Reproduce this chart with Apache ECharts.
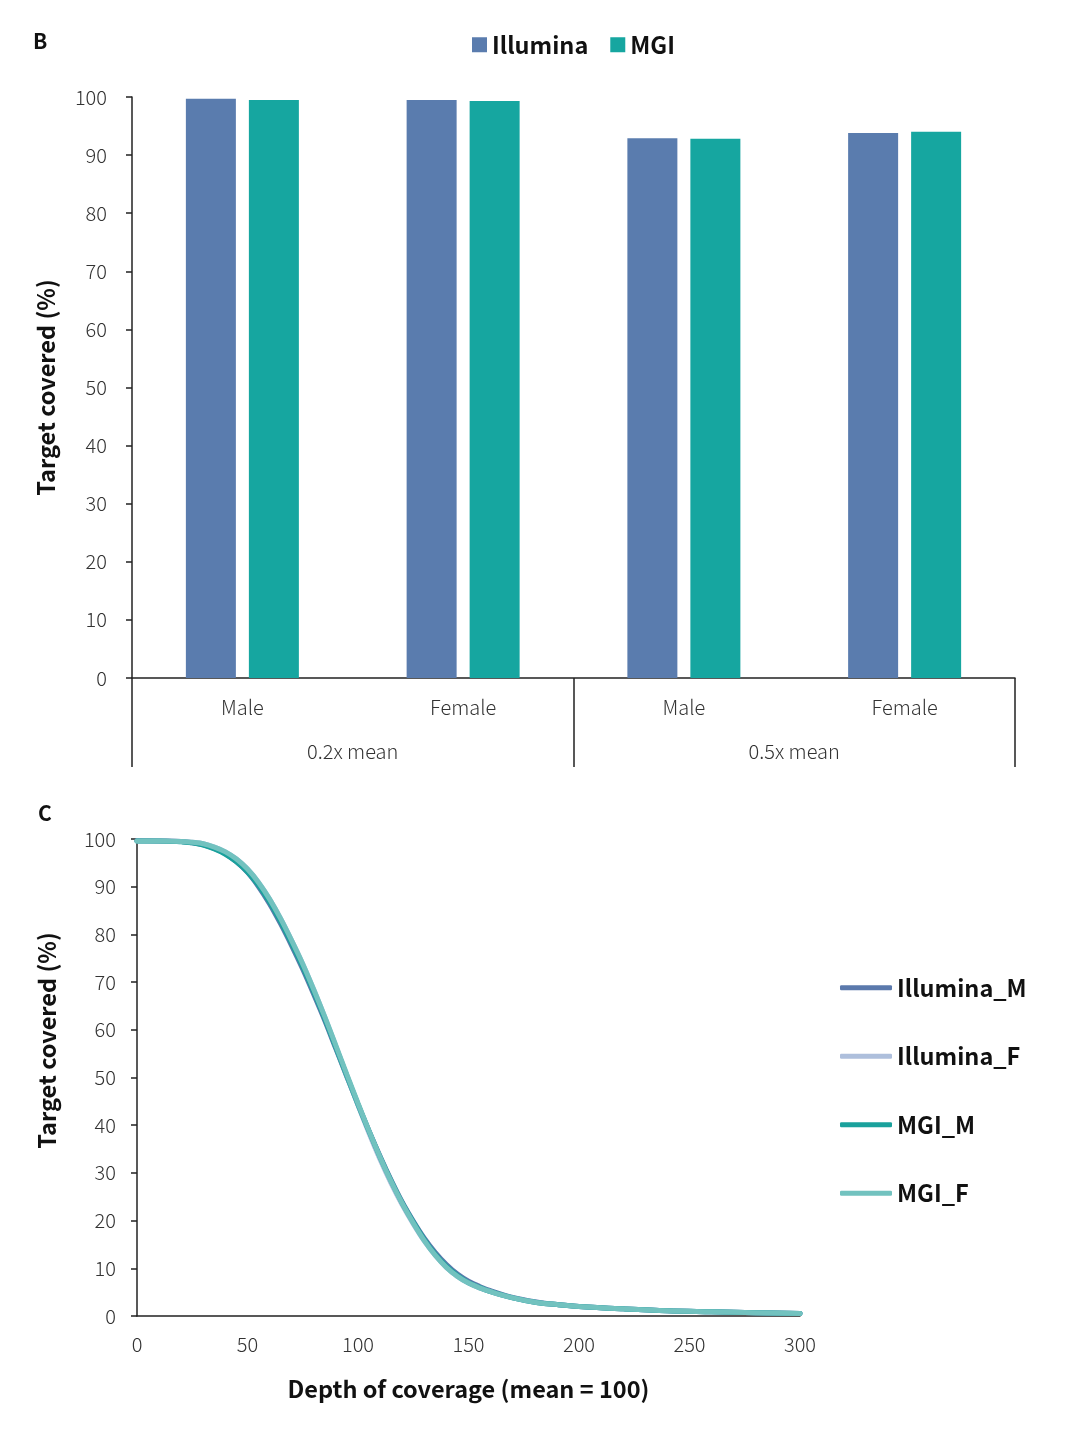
<!DOCTYPE html>
<html>
<head>
<meta charset="utf-8">
<script src="https://cdn.jsdelivr.net/npm/echarts@6/dist/echarts.min.js"></script>
<style>
  html, body { margin: 0; padding: 0; background: #fff; }
  #chart { width: 1080px; height: 1433px; }
</style>
</head>
<body>
<div id="chart"></div>
<script>
// panel B: target covered at 0.2x / 0.5x mean
const sexLabels = ["Male", "Female", "Male", "Female"];
const thresholdLabels = ["0.2x mean", "0.5x mean"];
const illuminaBars = [99.7, 99.5, 92.9, 93.8];
const mgiBars = [99.5, 99.3, 92.8, 94.0];

// panel C: cumulative coverage curves
const depth = [0, 10, 20, 25, 30, 35, 40, 45, 50, 55, 60, 65, 70, 75, 80, 85, 90, 95, 100, 105,
  110, 115, 120, 125, 130, 135, 140, 145, 150, 155, 160, 170, 180, 190, 200, 220, 240, 260, 280, 300];
const illuminaM = [99.7, 99.6, 99.5, 99.2, 98.8, 98.0, 96.9, 95.2, 93.0, 90.0, 86.4, 82.2, 77.6, 72.7, 67.4, 61.9, 56.0, 50.1, 44.3, 38.8,
  33.5, 28.5, 23.9, 19.9, 16.3, 13.3, 10.8, 8.8, 7.3, 6.2, 5.3, 3.9, 3.0, 2.4, 2.0, 1.5, 1.1, 0.9, 0.7, 0.5];
const illuminaF = [99.6, 99.6, 99.5, 99.3, 99.0, 98.3, 97.3, 95.8, 93.7, 90.9, 87.4, 83.3, 78.7, 73.8, 68.4, 62.6, 56.5, 50.3, 44.2, 38.3,
  32.8, 27.8, 23.3, 19.3, 15.7, 12.7, 10.2, 8.3, 6.9, 5.9, 5.1, 3.8, 2.9, 2.4, 2.0, 1.5, 1.1, 0.9, 0.7, 0.5];
const mgiM = [99.6, 99.6, 99.4, 99.2, 98.7, 97.9, 96.8, 95.2, 93.1, 90.3, 86.8, 82.7, 78.1, 73.2, 67.9, 62.3, 56.3, 50.3, 44.4, 38.7,
  33.3, 28.3, 23.7, 19.7, 16.0, 12.9, 10.4, 8.5, 7.0, 6.0, 5.1, 3.8, 2.9, 2.4, 2.0, 1.5, 1.1, 0.9, 0.7, 0.5];
const mgiF = [99.6, 99.6, 99.5, 99.3, 99.0, 98.3, 97.3, 95.8, 93.7, 90.9, 87.4, 83.3, 78.7, 73.8, 68.4, 62.7, 56.7, 50.6, 44.6, 38.8,
  33.3, 28.2, 23.6, 19.5, 15.8, 12.7, 10.2, 8.3, 6.9, 5.9, 5.1, 3.8, 2.9, 2.4, 2.0, 1.5, 1.1, 0.9, 0.7, 0.5];

const FONT = "Noto Sans CJK SC";
const tickText = { fontFamily: FONT, fontSize: 20, fontWeight: 300, color: "#333" };
const titleText = { fontFamily: FONT, fontSize: 23.5, fontWeight: "bold", color: "#111" };
const axisBlack = { lineStyle: { color: "#222", width: 1.5 } };

function pairs(ys) {
  return depth.map((d, i) => [d, ys[i]]);
}

function lineSeries(name, ys, color) {
  return {
    name: name,
    type: "line",
    xAxisIndex: 2,
    yAxisIndex: 1,
    data: pairs(ys),
    smooth: 0.35,
    showSymbol: false,
    symbol: "none",
    lineStyle: { color: color, width: 5, cap: "round" },
    itemStyle: { color: color },
  };
}

const chart = echarts.init(document.getElementById("chart"));
const option = {
  animation: false,
  backgroundColor: "#fff",
  graphic: [
    { type: "text", left: 33, top: 31, style: { text: "B", font: "bold 21px '" + FONT + "'", fill: "#111" } },
    { type: "text", left: 38, top: 803, style: { text: "C", font: "bold 21px '" + FONT + "'", fill: "#111" } },
  ],
  legend: [
    {
      data: ["Illumina", "MGI"],
      left: 467,
      top: 28,
      icon: "rect",
      itemWidth: 15,
      itemHeight: 15,
      itemGap: 22,
      textStyle: titleText,
    },
    {
      data: ["Illumina_M", "Illumina_F", "MGI_M", "MGI_F"],
      orient: "vertical",
      left: 835,
      top: 971,
      icon: "roundRect",
      itemWidth: 52,
      itemHeight: 5,
      itemGap: 45,
      textStyle: titleText,
    },
  ],
  grid: [
    { left: 132, right: 65, top: 97, height: 581 }, // 上图
    { left: 137, right: 280, top: 839, height: 477 }, // 下图
  ],
  xAxis: [
    {
      gridIndex: 0,
      type: "category",
      data: sexLabels,
      axisLine: axisBlack,
      axisTick: { show: false },
      axisLabel: Object.assign({ margin: 19 }, tickText),
    },
    {
      gridIndex: 0,
      type: "category",
      position: "bottom",
      data: thresholdLabels,
      axisLine: { show: false },
      axisTick: { show: true, length: 89, interval: 0, lineStyle: { color: "#222", width: 1.5 } },
      axisLabel: Object.assign({ margin: 63 }, tickText),
    },
    {
      gridIndex: 1,
      type: "value",
      min: 0,
      max: 300,
      interval: 50,
      splitLine: { show: false },
      axisLine: axisBlack,
      axisTick: { show: false },
      axisLabel: Object.assign({ margin: 18 }, tickText),
      name: "Depth of coverage (mean = 100)",
      nameLocation: "middle",
      nameGap: 61,
      nameTextStyle: titleText,
    },
  ],
  yAxis: [
    {
      gridIndex: 0,
      type: "value",
      min: 0,
      max: 100,
      interval: 10,
      splitLine: { show: false },
      axisLine: { show: true, lineStyle: { color: "#222", width: 1.5 } },
      axisTick: { show: true, length: 6, lineStyle: { color: "#222", width: 1.5 } },
      axisLabel: Object.assign({ margin: 25 }, tickText),
      name: "Target covered (%)",
      nameLocation: "middle",
      nameGap: 74,
      nameTextStyle: titleText,
    },
    {
      gridIndex: 1,
      type: "value",
      min: 0,
      max: 100,
      interval: 10,
      splitLine: { show: false },
      axisLine: { show: true, lineStyle: { color: "#222", width: 1.5 } },
      axisTick: { show: true, length: 6, lineStyle: { color: "#222", width: 1.5 } },
      axisLabel: Object.assign({ margin: 21 }, tickText),
      name: "Target covered (%)",
      nameLocation: "middle",
      nameGap: 78,
      nameTextStyle: Object.assign({ padding: [0, 0, 0, 74] }, titleText),
    },
  ],
  series: [
    {
      name: "Illumina",
      type: "bar",
      xAxisIndex: 0,
      yAxisIndex: 0,
      data: illuminaBars,
      barWidth: 50,
      barGap: "26%",
      itemStyle: { color: "#5a7cae" },
    },
    {
      name: "MGI",
      type: "bar",
      xAxisIndex: 0,
      yAxisIndex: 0,
      data: mgiBars,
      barWidth: 50,
      barGap: "26%",
      itemStyle: { color: "#16a6a0" },
    },
    lineSeries("Illumina_M", illuminaM, "#5b79ac"),
    lineSeries("Illumina_F", illuminaF, "#aebfdc"),
    lineSeries("MGI_M", mgiM, "#1aa19c"),
    lineSeries("MGI_F", mgiF, "#72c2bf"),
  ],
};
chart.setOption(option);
</script>
</body>
</html>
